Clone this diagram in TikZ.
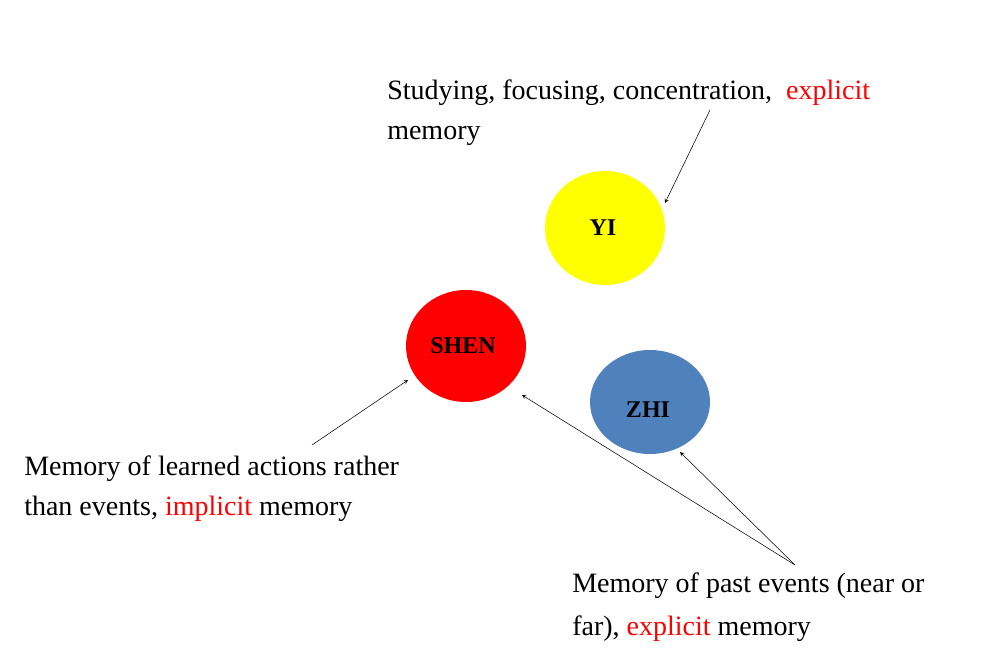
\documentclass[tikz,border=0pt]{standalone}
\usepackage{fontspec}
\setmainfont{Liberation Serif}
\definecolor{yel}{RGB}{255,255,0}
\definecolor{rd}{RGB}{255,0,0}
\definecolor{bl}{RGB}{79,129,189}
\begin{document}
\begin{tikzpicture}[x=0.75pt,y=-0.75pt,
 txt/.style={anchor=base west,font=\fontsize{21}{25}\selectfont,inner sep=0},
 circ/.style={font=\bfseries\fontsize{18}{20}\selectfont},
 arr/.style={-stealth,thin}]
\useasboundingbox (0,0) rectangle (1008,660);
\fill[yel] (605,228) ellipse (60 and 57);
\fill[rd] (466,346) ellipse (60 and 56);
\fill[bl] (650,402) ellipse (60 and 52);
\node[circ] (yi) at (603,228) {YI};
\node[circ] (shen) at (463,346) {SHEN};
\node[circ] (zhi) at (648,410) {ZHI};
\node[txt] (t1) at (387,100) {Studying, focusing, concentration, \ \textcolor{rd}{explicit}};
\node[txt] (t2) at (387,140) {memory};
\node[txt] (l1) at (24,475) {Memory of learned actions rather};
\node[txt] (l2) at (24,515) {than events, \textcolor{rd}{implicit} memory};
\node[txt] (r1) at (572,592) {Memory of past events (near or};
\node[txt] (r2) at (572,635) {far), \textcolor{rd}{explicit} memory};
\coordinate (a1) at (710,110);
\coordinate (a1e) at (665,203);
\coordinate (a2) at (312,445);
\coordinate (a2e) at (408,380);
\coordinate (a3) at (795,565);
\coordinate (a3e) at (522,395);
\coordinate (a4e) at (680,452);
\draw[arr] (a1) -- (a1e);
\draw[arr] (a2) -- (a2e);
\draw[arr] (a3) -- (a3e);
\draw[arr] (a3) -- (a4e);
\end{tikzpicture}
\end{document}
